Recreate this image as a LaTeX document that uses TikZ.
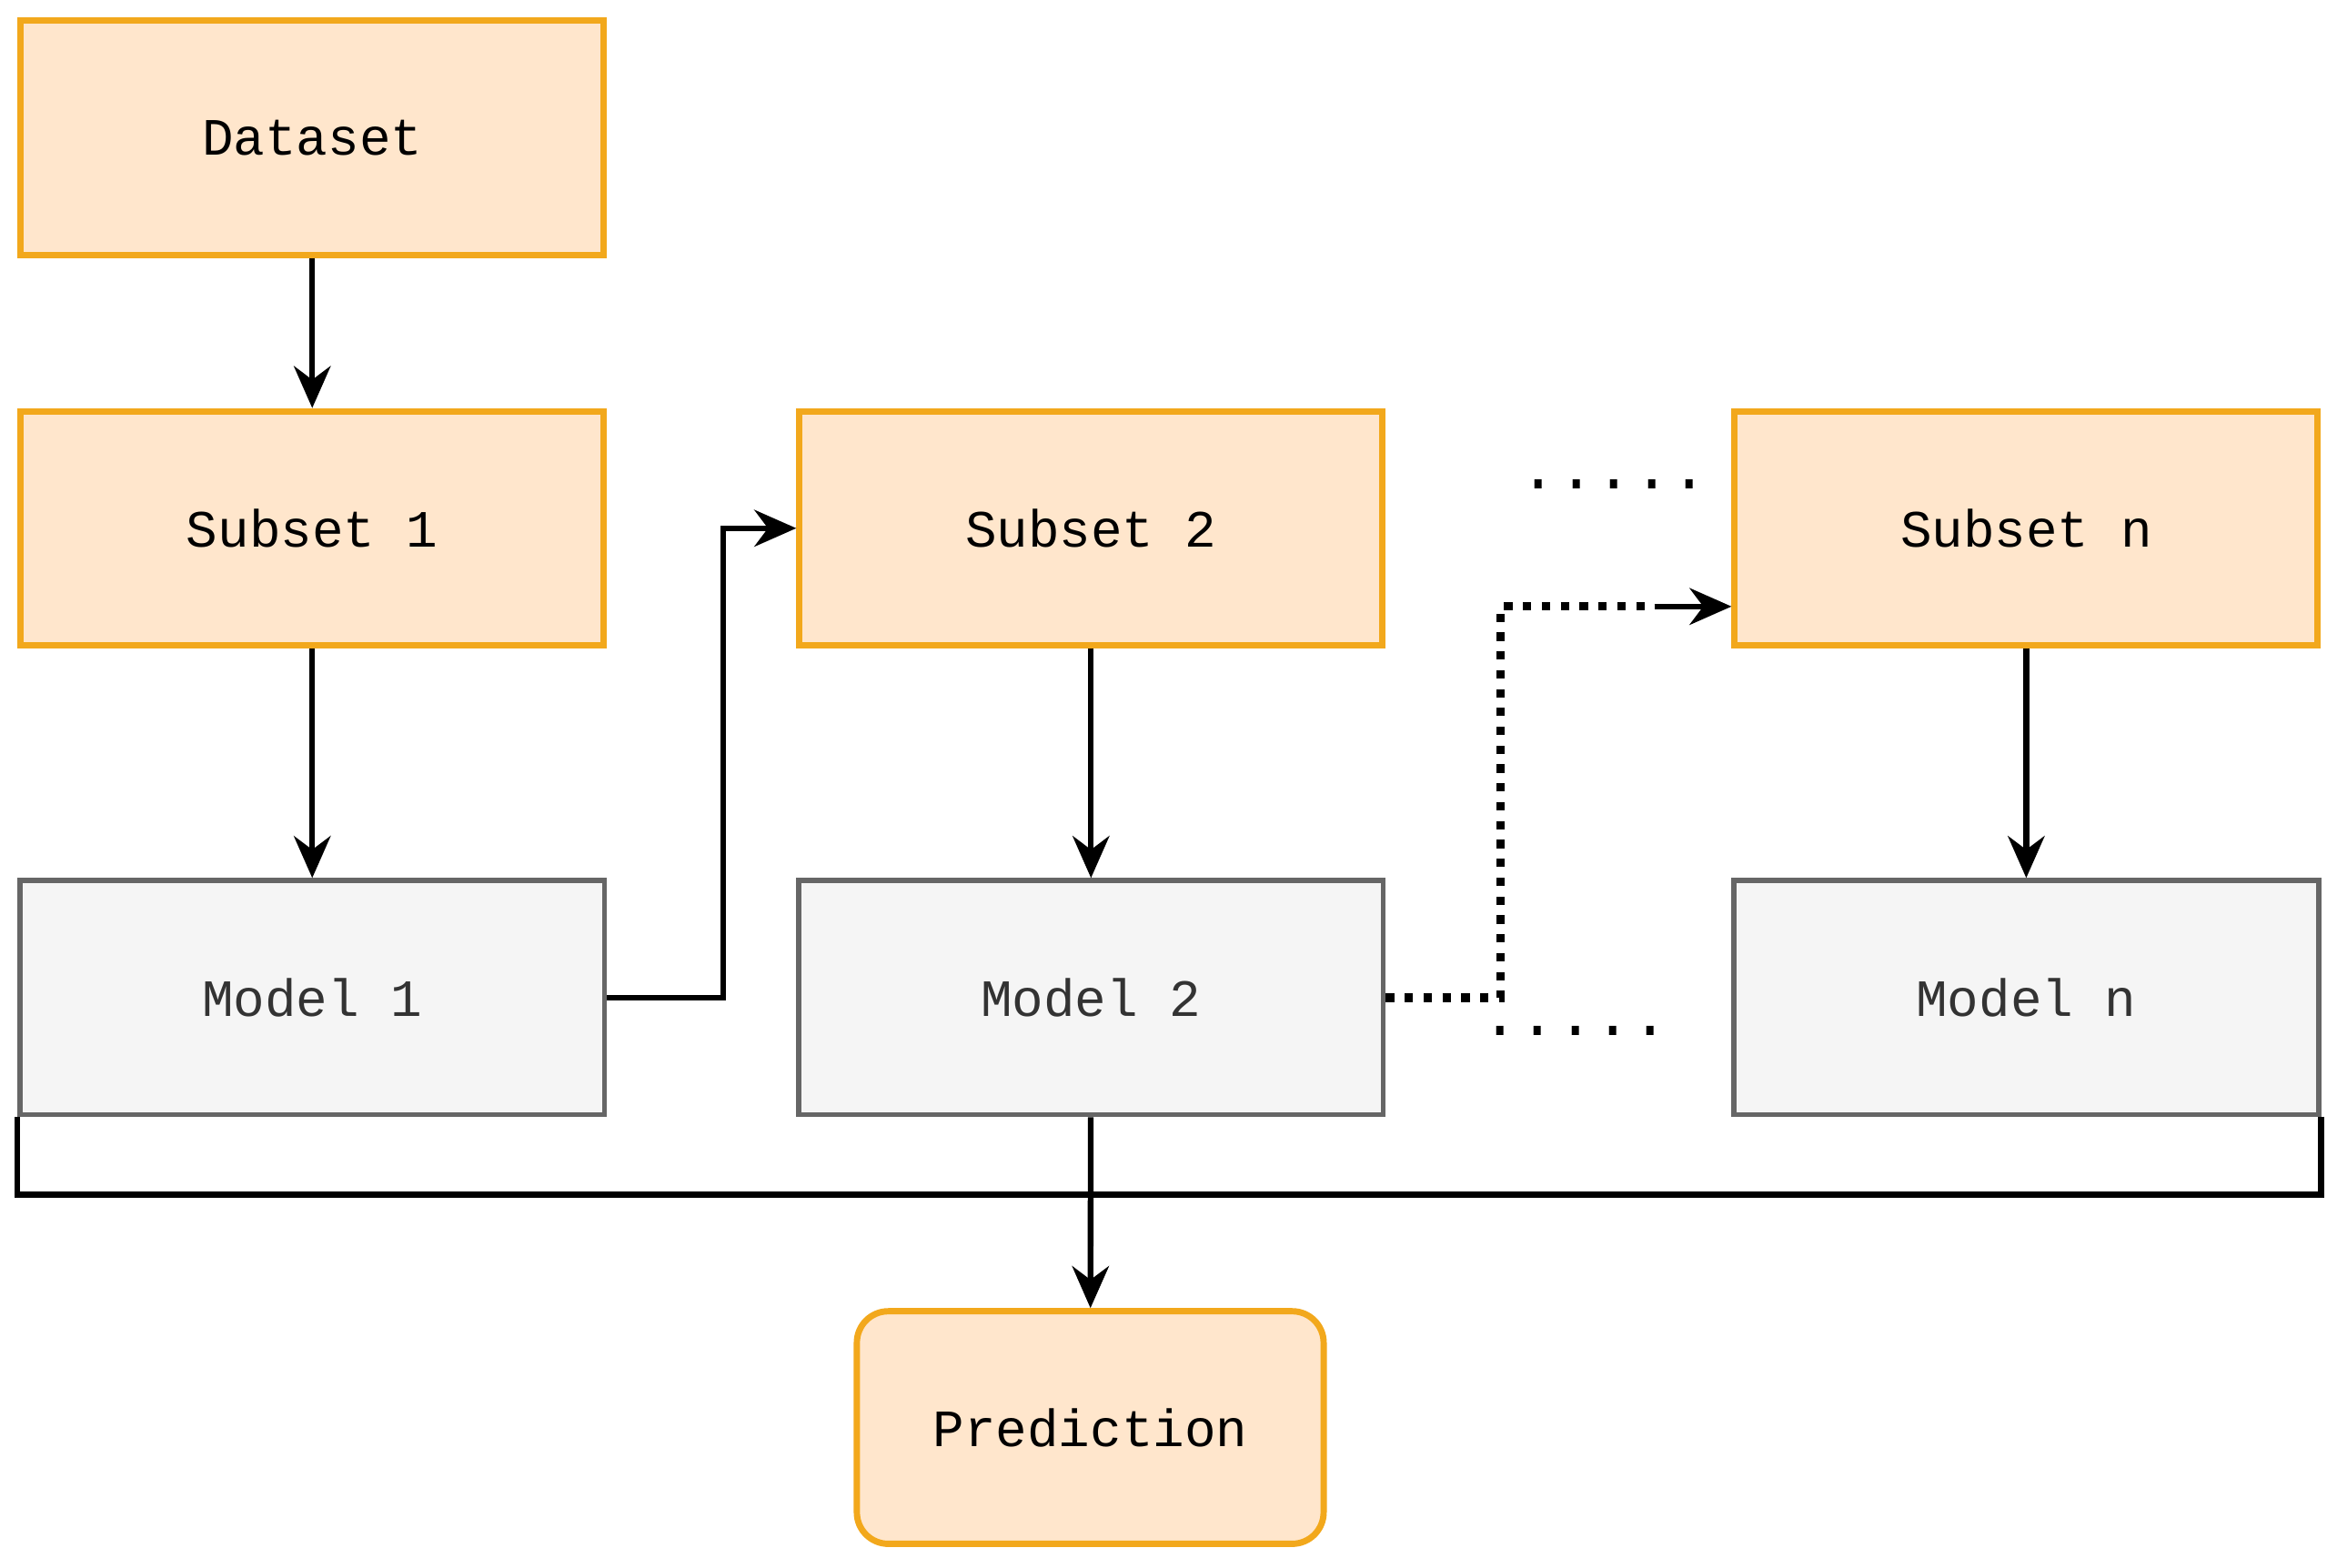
\documentclass[tikz,border=0pt]{standalone}
\usepackage{fontspec}
\setmonofont{Liberation Mono}
\usetikzlibrary{arrows.meta}
\definecolor{boxfill}{HTML}{FFE6CC}
\definecolor{boxdraw}{HTML}{F2A81C}
\definecolor{modelfill}{HTML}{F5F5F5}
\definecolor{modeldraw}{HTML}{666666}
\definecolor{modeltext}{HTML}{333333}
\tikzset{
  stage/.style={draw=boxdraw,fill=boxfill,line width=1.2pt,minimum width=3.91cm,minimum height=1.57cm,inner sep=0pt,font=\ttfamily\fontsize{10}{12}\selectfont},
  model/.style={draw=modeldraw,fill=modelfill,line width=1pt,minimum width=3.92cm,minimum height=1.57cm,inner sep=0pt,text=modeltext,font=\ttfamily\fontsize{10}{12}\selectfont},
  flow/.style={line width=1.1pt,-{Stealth[length=8pt,width=7pt]}},
  dots/.style={font=\ttfamily\fontsize{12}{14}\selectfont}
}
\begin{document}
\begin{tikzpicture}[x=0.01cm,y=-0.01cm]
\useasboundingbox (0,0) rectangle (1568,1052);
\node[stage] (data) at (209.5,92.5) {Dataset};
\node[stage] (s1) at (209.5,354.5) {Subset 1};
\node[stage] (s2) at (732,354.5) {Subset 2};
\node[stage] (sn) at (1359.5,354.5) {Subset n};
\node[model] (m1) at (209.5,669.5) {Model 1};
\node[model] (m2) at (732,669.5) {Model 2};
\node[model] (mn) at (1359.5,669.5) {Model n};
\node[stage,rounded corners=6pt,minimum width=3.13cm,minimum height=1.56cm] (pred) at (731.5,958) {Prediction};
\node[dots] at (1083,325) {.....};
\node[dots] at (1057,692) {.....};

\draw[flow] (data) -- (s1);
\draw[flow] (s1) -- (m1);
\draw[flow] (s2) -- (m2);
\draw[flow] (sn) -- (mn);
\draw[flow] (m1.east) -- ++(78,0) |- (s2.west);
\draw[line width=1.6pt,dotted] (m2.east) -- ++(77,0) |- (1110,407);
\draw[flow] (1110,407) -- (sn.west |- 0,407);
\draw[line width=1.1pt] (m1.south west) -- ++(0,52) -| (mn.south east);
\draw[flow] (m2) -- (pred);
\end{tikzpicture}
\end{document}
